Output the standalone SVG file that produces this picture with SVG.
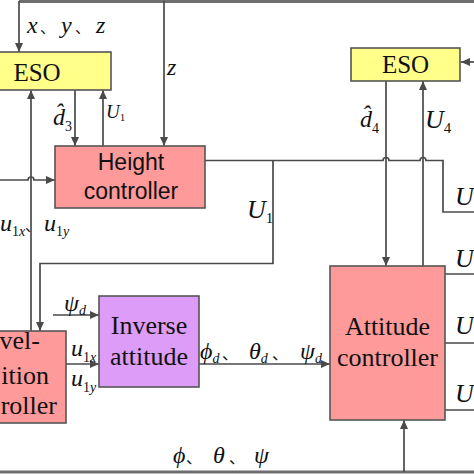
<svg xmlns="http://www.w3.org/2000/svg" width="474" height="474" viewBox="0 0 474 474">
<defs>
<style>
.ln{stroke:#4a4a4a;stroke-width:1.7;fill:none}
.thick{stroke:#6e6e6e;stroke-width:3;fill:none}
.box{stroke:#555;stroke-width:1.6}
.eso{fill:#ffff8a}
.ctl{fill:#ff9a9a}
.inv{fill:#dc9cf7}
.serif{font-family:"Liberation Serif","Times New Roman","DejaVu Serif",serif;fill:#111}
.sans{font-family:"Liberation Sans",Arial,sans-serif;fill:#111}
.it{font-style:italic}
.up{font-style:normal}
.cjk{font-family:"Noto Sans CJK SC","Noto Sans CJK JP",sans-serif;font-style:normal}
</style>
<marker id="ar" markerWidth="9" markerHeight="8" refX="9" refY="4" orient="auto" markerUnits="userSpaceOnUse">
<path d="M0,0 L9,4 L0,8 Z" fill="#4a4a4a"/>
</marker>
</defs>
<rect width="474" height="474" fill="#fff"/>

<g id="connectors">
<path class="thick" d="M19,1.5 H474"/>
<path class="thick" d="M0,472 H474"/>
<path class="ln" d="M19,1 V52" marker-end="url(#ar)"/>
<path class="ln" d="M164,1 V146" marker-end="url(#ar)"/>
<path class="ln" d="M75,90 V146" marker-end="url(#ar)"/>
<path class="ln" d="M103,146 V90" marker-end="url(#ar)"/>
<path class="ln" d="M31,331 V90" marker-end="url(#ar)"/>
<path class="ln" d="M0,180 H28 a3,3 0 0 1 6,0 H55" marker-end="url(#ar)"/>
<path class="ln" d="M205,160.5 H383 a3,3 0 0 1 6,0 H420 a3,3 0 0 1 6,0 H443 V212 H474"/>
<path class="ln" d="M273,160.5 V263.5 H40 V331" marker-end="url(#ar)"/>
<path class="ln" d="M474,62 H461" marker-end="url(#ar)"/>
<path class="ln" d="M386,81 V266" marker-end="url(#ar)"/>
<path class="ln" d="M423,266 V81" marker-end="url(#ar)"/>
<path class="ln" d="M445,274 H474 M445,343 H474 M445,410 H474"/>
<path class="ln" d="M53,315 H99" marker-end="url(#ar)"/>
<path class="ln" d="M66,364 H99" marker-end="url(#ar)"/>
<path class="ln" d="M199,364 H330" marker-end="url(#ar)"/>
<path class="ln" d="M404,472 V420" marker-end="url(#ar)"/>
</g>

<g id="eso-left">
<rect class="box eso" x="-2" y="52" width="113" height="38"/>
<text class="serif" x="37" y="81" font-size="25" text-anchor="middle">ESO</text>
</g>

<g id="eso-right">
<rect class="box eso" x="351" y="48" width="109" height="33"/>
<text class="serif" x="405.5" y="73" font-size="25" text-anchor="middle">ESO</text>
</g>

<g id="height-controller">
<rect class="box ctl" x="55" y="146" width="150" height="62"/>
<text class="sans" x="131" y="170" font-size="23" text-anchor="middle">Height</text>
<text class="sans" x="131" y="199" font-size="23" text-anchor="middle">controller</text>
</g>

<g id="position-controller">
<rect class="box ctl" x="-2" y="331" width="68" height="92"/>
<text class="serif" x="40" y="349" font-size="26" text-anchor="end">vel-</text>
<text class="serif" x="49" y="384" font-size="26" text-anchor="end">ition</text>
<text class="serif" x="57" y="414" font-size="26" text-anchor="end">roller</text>
</g>

<g id="inverse-attitude">
<rect class="box inv" x="99" y="296" width="100" height="91"/>
<text class="serif" x="149" y="334" font-size="26" text-anchor="middle">Inverse</text>
<text class="serif" x="149" y="365" font-size="26" text-anchor="middle">attitude</text>
</g>

<g id="attitude-controller">
<rect class="box ctl" x="330" y="266" width="115" height="154"/>
<text class="serif" x="387.5" y="335" font-size="26" text-anchor="middle">Attitude</text>
<text class="serif" x="387.5" y="366" font-size="26" text-anchor="middle">controller</text>
</g>

<g id="labels" class="serif it">
<text font-size="24" y="33"><tspan x="27">x</tspan><tspan class="cjk" font-size="15" x="40">、</tspan><tspan x="61">y</tspan><tspan class="cjk" font-size="15" x="75">、</tspan><tspan x="96">z</tspan></text>
<text font-size="24" x="167" y="75">z</text>
<text font-size="24" x="53" y="125">d̂<tspan class="up" font-size="14" dy="6">3</tspan></text>
<text font-size="19" x="106" y="118">U<tspan class="up" font-size="11" dy="3">1</tspan></text>
<text font-size="24" x="360" y="127">d̂<tspan class="up" font-size="14" dy="6">4</tspan></text>
<text font-size="26" x="425" y="128">U<tspan class="up" font-size="15" dy="5">4</tspan></text>
<text font-size="26" x="247" y="218">U<tspan class="up" font-size="15" dy="5">1</tspan></text>
<text font-size="26" x="455" y="205">U</text>
<text font-size="26" x="455" y="267">U</text>
<text font-size="26" x="455" y="334">U</text>
<text font-size="26" x="455" y="402">U</text>
<text font-size="24" y="231"><tspan x="0">u</tspan><tspan class="up" font-size="14" dy="5">1</tspan><tspan font-size="14">x</tspan><tspan class="cjk" font-size="15" dy="-5" x="25">、</tspan></text>
<text font-size="24" y="231"><tspan x="44">u</tspan><tspan class="up" font-size="14" dy="5">1</tspan><tspan font-size="14">y</tspan></text>
<text font-size="24" x="64" y="311">ψ<tspan font-size="14" dy="4">d</tspan></text>
<text font-size="24" x="71" y="356">u<tspan class="up" font-size="14" dy="6">1</tspan><tspan font-size="14">x</tspan></text>
<text font-size="24" x="71" y="386">u<tspan class="up" font-size="14" dy="6">1</tspan><tspan font-size="14">y</tspan></text>
<text font-size="24" y="359"><tspan x="200">ϕ</tspan><tspan font-size="14" dy="4">d</tspan><tspan class="cjk" font-size="16" dy="-4" x="222">、</tspan><tspan x="249">θ</tspan><tspan font-size="14" dy="4">d</tspan><tspan class="cjk" font-size="16" dy="-4" x="272">、</tspan><tspan x="300">ψ</tspan><tspan font-size="14" dy="4">d</tspan></text>
<text font-size="24" y="463"><tspan x="173">ϕ</tspan><tspan class="cjk" font-size="16" x="186">、</tspan><tspan x="213">θ</tspan><tspan class="cjk" font-size="16" x="229">、</tspan><tspan x="254">ψ</tspan></text>
</g>
</svg>
